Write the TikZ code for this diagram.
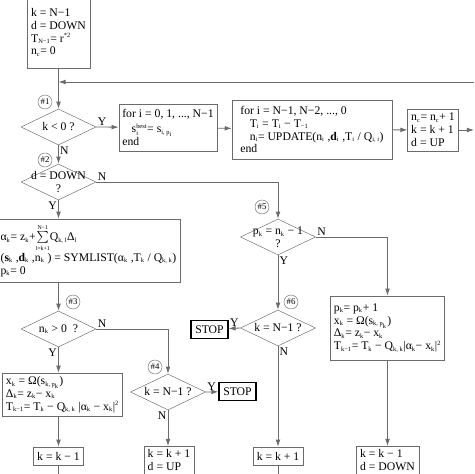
\documentclass[tikz,border=0pt]{standalone}
\usepackage{amsmath}
\usepackage{fontspec}
\setmainfont{Liberation Serif}
\usetikzlibrary{shapes.geometric,arrows.meta}

\definecolor{linegray}{gray}{0.42}
% text sub- and superscripts
\newcommand{\tsb}[1]{\ensuremath{_{\text{\fontsize{5.5}{5.5}\selectfont #1}}}}
\newcommand{\tsp}[1]{\ensuremath{^{\text{\fontsize{5.5}{5.5}\selectfont #1}}}}
\newcommand{\tsbp}[2]{\ensuremath{_{\text{\fontsize{5.5}{5.5}\selectfont #1}}^{\text{\fontsize{5.5}{5.5}\selectfont #2}}}}

\tikzset{
  box/.style={draw=linegray, fill=white, align=left, inner xsep=3pt, inner ysep=2pt},
  decision/.style={diamond, draw=linegray, minimum width=2.25cm, minimum height=1.08cm, inner sep=0pt},
  stopbox/.style={draw=black, line width=1.3pt, minimum width=1.1cm, minimum height=0.54cm, inner sep=0pt},
  numtag/.style={circle, draw=linegray, inner sep=0pt, minimum size=0.42cm, font=\fontsize{7.5}{7.5}\selectfont},
  flow/.style={draw=linegray, line width=0.7pt},
  yn/.style={inner sep=1pt}
}

\begin{document}
\begin{tikzpicture}[x=0.03cm, y=-0.03cm, >={Latex[length=6pt,width=4pt]}, font=\fontsize{10}{11}\selectfont]
    \useasboundingbox (0,0) rectangle (474,474);
    % initial values
    \node[box, minimum width=1.89cm, minimum height=2.13cm] (init) at (58.5,32.5)
        {k = N−1\\d = DOWN\\T\tsb{N−1}= r\tsp{*2}\\n\tsb{c}= 0};
    \coordinate (join) at (58.5,82);
    \coordinate (fbin) at (474,82);
    \coordinate (out) at (474,130);
    % top row
    \node[decision, label={center:{k < 0 ?}}] (d1) at (58.5,127) {};
    \node[box, minimum width=2.7cm, minimum height=1.41cm] (loopA) at (168,127.5)
        {for i = 0, 1, ..., N−1\\[1.5pt]\hspace{8pt}s\tsbp{i}{best}= s\tsb{i, p\tsb{i}}\\end};
    \node[box, minimum width=4.8cm, minimum height=1.77cm] (loopB) at (312,129.5)
        {for i = N−1, N−2, ..., 0\\\hspace{8pt}T\tsb{i} = T\tsb{i} − T\tsb{−1}\\
         \hspace{8pt}n\tsb{i}= UPDATE(n\tsb{i} ,\textbf{d}\tsb{i} ,T\tsb{i} / Q\tsb{i, i})\\end};
    \node[box, minimum width=1.38cm, minimum height=1.26cm] (upd) at (433,130)
        {n\tsb{c}= n\tsb{c}+ 1\\k = k + 1\\d = UP};
    % left column
    \node[decision, label={[align=center]center:{d = DOWN\\?}}] (d2) at (58.5,182) {};
    \node[box, minimum width=5.28cm, minimum height=1.89cm] (alpha) at (88.5,250.5)
        {α\tsb{k}= z\tsb{k}+$\sum\limits_{\text{\fontsize{5}{5}\selectfont l=k+1}}^{\text{\fontsize{5}{5}\selectfont N−1}}$Q\tsb{k, l}Δ\tsb{l}\\
         (\textbf{s}\tsb{k} ,\textbf{d}\tsb{k} ,n\tsb{k} ) = SYMLIST(α\tsb{k} ,T\tsb{k} / Q\tsb{k, k})\\p\tsb{k}= 0};
    \node[decision, label={center:{n\tsb{k} > 0\ \ ?}}] (d3) at (58.5,329) {};
    \node[box, minimum width=3.45cm, minimum height=1.29cm] (xbox) at (62.5,394.5)
        {x\tsb{k} = Ω(s\tsb{k, p\tsb{k}})\\Δ\tsb{k}= z\tsb{k}− x\tsb{k}\\
         T\tsb{k−1}= T\tsb{k} − Q\tsb{k, k} |α\tsb{k} − x\tsb{k}|\tsp{2}};
    \node[box, minimum width=1.38cm, minimum height=0.54cm, align=center] (kdec1) at (58.5,456) {k = k − 1};
    \node[decision, label={center:{k = N−1 ?}}] (d4) at (168,392) {};
    \node[stopbox] (stop1) at (237.5,391.5) {STOP};
    \node[box, minimum width=1.38cm, anchor=north, inner ysep=3pt] (kinc1) at (169,446) {k = k + 1\\d = UP\\[2pt]};
    % right column
    \node[decision, label={[align=center]center:{p\tsb{k} = n\tsb{k} − 1\\?}}] (d5) at (278,237) {};
    \node[box, minimum width=3.27cm, minimum height=1.92cm] (pbox) at (387.5,328)
        {p\tsb{k}= p\tsb{k}+ 1\\x\tsb{k} = Ω(s\tsb{k, p\tsb{k}})\\Δ\tsb{k}= z\tsb{k}− x\tsb{k}\\
         T\tsb{k−1}= T\tsb{k} − Q\tsb{k, k}|α\tsb{k}− x\tsb{k}|\tsp{2}};
    \node[box, minimum width=1.89cm, anchor=north, inner ysep=3pt] (kdec2) at (387.5,446) {k = k − 1\\d = DOWN\\[2pt]};
    \node[decision, label={center:{k = N−1 ?}}] (d6) at (278,328) {};
    \node[stopbox] (stop2) at (209.5,329.5) {STOP};
    \node[box, minimum width=1.35cm, minimum height=0.54cm, align=center] (kinc2) at (278,456) {k = k + 1};
    \coordinate (bot1) at (58.5,474);
    \coordinate (bot2) at (278,474);
    % step numbers
    \node[numtag] (t1) at (45,102) {\#1};
    \node[numtag] (t2) at (45,160) {\#2};
    \node[numtag] (t3) at (73,302) {\#3};
    \node[numtag] (t4) at (155,367) {\#4};
    \node[numtag] (t5) at (262,207) {\#5};
    \node[numtag] (t6) at (291,302) {\#6};
    % connectors
    \draw[flow] (init) -- (join);
    \draw[flow, ->] (fbin) -- (join);
    \draw[flow, ->] (join) -- (d1);
    \draw[flow, ->] (d1.east) node[yn, anchor=south west] (y1) {Y} -- (loopA);
    \draw[flow, ->] (loopA) -- (loopB);
    \draw[flow, ->] (loopB) -- (upd);
    \draw[flow, ->] (upd) -- (out);
    \draw[flow, ->] (d1.south) node[yn, anchor=north west] (n1) {N} -- (d2);
    \draw[flow, ->] (d2.east) node[yn, anchor=south west] (n2) {N} -- (d2.east -| d5.north) -- (d5);
    \draw[flow, ->] (d2.south) node[yn, anchor=north east] (y2) {Y} -- (d2.south |- alpha.north);
    \draw[flow, ->] (d3.north |- alpha.south) -- (d3);
    \draw[flow, ->] (d3.east) node[yn, anchor=south west] (n3) {N} -- (d3.east -| d4.north) -- (d4);
    \draw[flow, ->] (d3.south) node[yn, anchor=north east] (y3) {Y} -- (d3.south |- xbox.north);
    \draw[flow, ->] (kdec1.north |- xbox.south) -- (kdec1);
    \draw[flow] (kdec1) -- (bot1);
    \draw[flow, ->] (d4.east) node[yn, anchor=south west] (y4) {Y} -- (stop1);
    \draw[flow, ->] (d4.south) node[yn, anchor=north east] (n4) {N} -- (d4.south |- kinc1.north);
    \draw[flow, ->] (d5.east) node[yn, anchor=south west] (n5) {N} -- (d5.east -| pbox.north) -- (pbox);
    \draw[flow, ->] (d5.south) node[yn, anchor=north west] (y5) {Y} -- (d6);
    \draw[flow, ->] (d6.west) node[yn, anchor=south east] (y6) {Y} -- (stop2);
    \draw[flow, ->] (d6.south) node[yn, anchor=north west] (n6) {N} -- (kinc2);
    \draw[flow, ->] (pbox) -- (kdec2);
    \draw[flow] (kinc2) -- (bot2);
\end{tikzpicture}
\end{document}
